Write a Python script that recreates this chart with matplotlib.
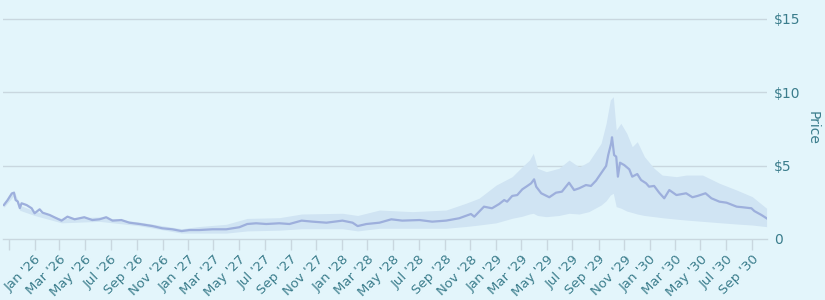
import matplotlib
matplotlib.use("Agg")
import matplotlib.pyplot as plt
import pandas as pd

# median price path
line_dates = [
    "2025-10-20", "2025-10-29", "2025-11-03", "2025-11-08", "2025-11-13", "2025-11-17",
    "2025-11-22", "2025-11-27", "2025-12-01", "2025-12-13", "2025-12-25", "2026-01-01",
    "2026-01-13", "2026-01-20", "2026-02-06", "2026-02-22", "2026-03-06", "2026-03-20",
    "2026-04-06", "2026-04-29", "2026-05-18", "2026-06-04", "2026-06-20", "2026-07-05",
    "2026-07-26", "2026-08-14", "2026-09-07", "2026-10-08", "2026-10-31", "2026-11-24",
    "2026-12-16", "2027-01-04", "2027-01-27", "2027-02-27", "2027-04-01", "2027-05-02",
    "2027-05-21", "2027-06-11", "2027-07-05", "2027-08-05", "2027-08-29", "2027-09-27",
    "2027-10-23", "2027-11-25", "2028-01-02", "2028-01-26", "2028-02-07", "2028-02-28",
    "2028-03-30", "2028-04-27", "2028-05-23", "2028-07-03", "2028-08-02", "2028-09-04",
    "2028-10-05", "2028-11-02", "2028-11-10", "2028-12-03", "2028-12-22", "2029-01-08",
    "2029-01-20", "2029-01-27", "2029-02-08", "2029-02-20", "2029-03-04", "2029-03-16",
    "2029-03-25", "2029-04-01", "2029-04-06", "2029-04-18", "2029-05-07", "2029-05-23",
    "2029-06-06", "2029-06-23", "2029-07-05", "2029-07-17", "2029-08-02", "2029-08-14",
    "2029-08-26", "2029-09-07", "2029-09-19", "2029-09-24", "2029-10-01", "2029-10-03",
    "2029-10-08", "2029-10-13", "2029-10-17", "2029-10-22", "2029-11-01", "2029-11-13",
    "2029-11-20", "2029-12-02", "2029-12-11", "2029-12-23", "2029-12-30", "2030-01-11",
    "2030-01-23", "2030-02-04", "2030-02-16", "2030-03-05", "2030-03-28", "2030-04-12",
    "2030-04-24", "2030-05-13", "2030-05-27", "2030-06-15", "2030-07-02", "2030-07-26",
    "2030-08-09", "2030-08-30", "2030-09-06", "2030-09-23", "2030-10-05",
]
line_price = [
    2.31, 2.65, 2.88, 3.10, 3.15, 2.65,
    2.55, 2.10, 2.43, 2.31, 2.09, 1.75,
    2.02, 1.79, 1.63, 1.41, 1.25, 1.52,
    1.34, 1.48, 1.29, 1.34, 1.48, 1.25,
    1.29, 1.11, 1.02, 0.88, 0.73, 0.66,
    0.54, 0.61, 0.61, 0.66, 0.66, 0.80,
    1.02, 1.07, 1.02, 1.07, 1.02, 1.25,
    1.18, 1.11, 1.25, 1.11, 0.88, 1.02,
    1.11, 1.34, 1.25, 1.29, 1.18, 1.25,
    1.41, 1.70, 1.52, 2.20, 2.09, 2.38,
    2.65, 2.54, 2.93, 2.99, 3.38, 3.61,
    3.79, 4.06, 3.56, 3.11, 2.84, 3.15,
    3.22, 3.83, 3.33, 3.45, 3.67, 3.61,
    3.97, 4.47, 4.97, 5.71, 6.51, 6.92,
    5.71, 5.60, 4.24, 5.19, 5.03, 4.74,
    4.24, 4.42, 4.01, 3.79, 3.56, 3.61,
    3.15, 2.77, 3.33, 2.99, 3.11, 2.84,
    2.93, 3.11, 2.77, 2.54, 2.47, 2.20,
    2.16, 2.09, 1.90, 1.63, 1.41,
]

# range band (high / low)
band_dates = [
    "2025-10-20", "2025-11-13", "2025-11-27", "2026-01-01", "2026-03-06", "2026-06-04",
    "2026-09-07", "2026-12-16", "2027-01-27", "2027-04-01", "2027-05-21", "2027-08-05",
    "2027-09-27", "2028-01-02", "2028-02-07", "2028-03-30", "2028-06-16", "2028-09-04",
    "2028-10-21", "2028-11-21", "2029-01-01", "2029-02-08", "2029-03-04", "2029-03-21",
    "2029-03-30", "2029-04-09", "2029-04-30", "2029-05-30", "2029-06-23", "2029-07-17",
    "2029-08-09", "2029-09-07", "2029-09-19", "2029-09-29", "2029-10-06", "2029-10-13",
    "2029-10-24", "2029-11-07", "2029-11-20", "2029-12-02", "2029-12-19", "2030-01-11",
    "2030-01-30", "2030-03-05", "2030-03-28", "2030-05-06", "2030-06-15", "2030-07-26",
    "2030-09-01", "2030-10-05",
]
band_hi = [
    2.45, 3.30, 2.30, 1.90, 1.40, 1.50,
    1.15, 0.70, 0.85, 1.00, 1.40, 1.45,
    1.70, 1.75, 1.60, 1.97, 1.86, 1.97,
    2.43, 2.77, 3.67, 4.24, 4.92, 5.37,
    5.83, 4.81, 4.58, 4.81, 5.37, 4.90,
    5.26, 6.51, 7.87, 9.46, 9.68, 7.41,
    7.87, 7.19, 6.28, 6.62, 5.60, 4.81,
    4.35, 4.24, 4.35, 4.35, 3.79, 3.33,
    2.88, 2.09,
]
band_lo = [
    2.15, 2.95, 1.95, 1.60, 1.10, 1.20,
    0.90, 0.40, 0.40, 0.40, 0.55, 0.60,
    0.70, 0.70, 0.55, 0.73, 0.73, 0.73,
    0.85, 0.95, 1.10, 1.41, 1.55, 1.70,
    1.75, 1.60, 1.52, 1.60, 1.75, 1.70,
    1.86, 2.31, 2.60, 2.99, 3.11, 2.20,
    2.10, 1.90, 1.80, 1.70, 1.60, 1.52,
    1.45, 1.35, 1.29, 1.20, 1.11, 1.02,
    0.95, 0.84,
]

y_ticks = [0, 5, 10, 15]
y_labels = ["0", "$5", "$10", "$15"]

bg = "#e3f5fb"
txt = "#3b7d8c"
grid = "#c9d7df"

ld = pd.to_datetime(line_dates)
bd = pd.to_datetime(band_dates)

fig = plt.figure(figsize=(8.25, 3.0), dpi=100, facecolor=bg)
ax = fig.add_axes([3 / 825, 1 - 239 / 300, 764 / 825, 235.2 / 300])
ax.set_facecolor(bg)

ax.fill_between(bd, band_lo, band_hi, color="#d0e4f3", lw=0, zorder=2)
ax.plot(ld, line_price, color="#9dafdc", lw=1.6, zorder=3)

ax.set_ylim(0, 16)
ax.set_xlim(pd.Timestamp("2025-10-18"), pd.Timestamp("2030-10-06"))

ax.yaxis.tick_right()
ax.set_yticks(y_ticks)
ax.set_yticklabels(y_labels)
ax.tick_params(axis="y", length=0, pad=5, labelsize=10, labelcolor=txt)
for v in y_ticks[1:]:
    ax.axhline(v, color=grid, lw=1, zorder=1)

fig.text(813 / 825, 1 - 128 / 300, "Price", rotation=270, color=txt,
         fontsize=10, ha="center", va="center")

xt = pd.date_range("2025-11-01", "2030-09-01", freq="2MS")
ax.set_xticks(xt)
ax.set_xticklabels(["" if i == 0 else d.strftime("%b '%y") for i, d in enumerate(xt)])
ax.tick_params(axis="x", length=8, width=1, color=grid, labelsize=9.5, labelcolor=txt, pad=2)
for lab in ax.get_xticklabels():
    lab.set_rotation(45)
    lab.set_ha("right")
    lab.set_rotation_mode("anchor")

for s in ["top", "left", "right"]:
    ax.spines[s].set_visible(False)
ax.spines["bottom"].set_color(grid)
ax.spines["bottom"].set_linewidth(1)

fig.savefig("out.png", dpi=100, facecolor=bg)
